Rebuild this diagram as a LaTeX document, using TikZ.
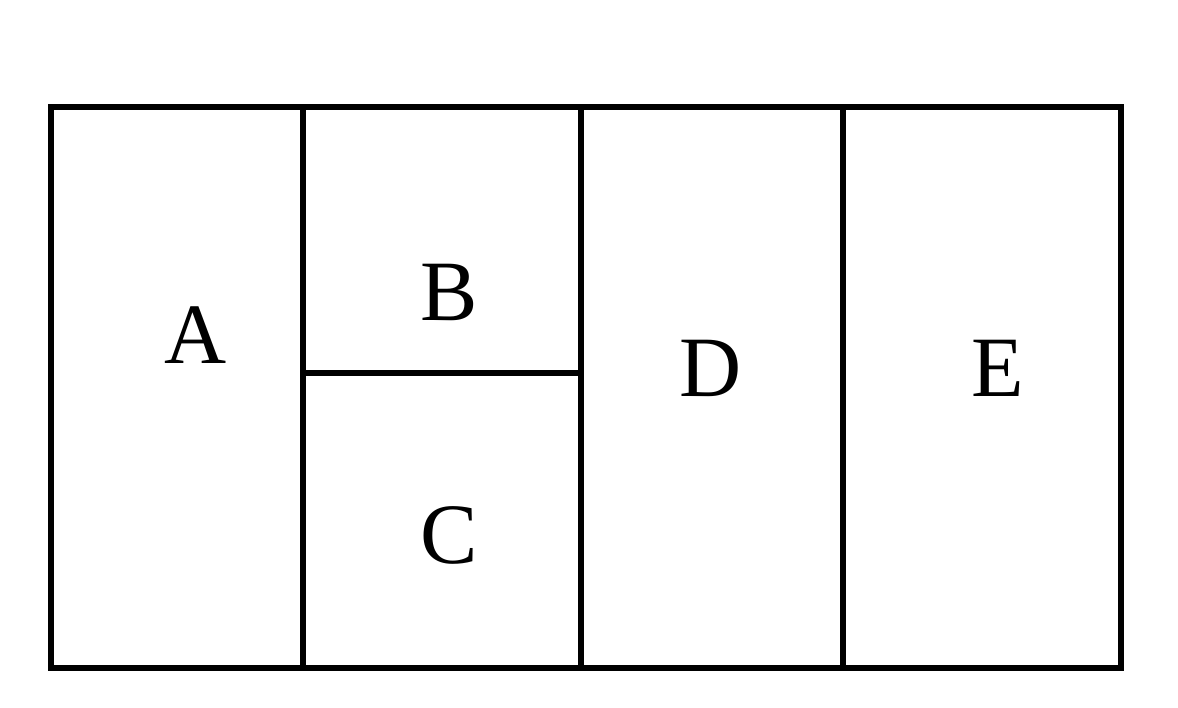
\documentclass[tikz,border=0pt]{standalone}
\usepackage{fontspec}
\setmainfont{Liberation Serif}
\begin{document}
\begin{tikzpicture}[x=1pt,y=-1pt,
  frame/.style={line width=6pt,draw=black},
  lbl/.style={anchor=base,inner sep=0pt,font=\fontsize{86}{86}\selectfont}]
\useasboundingbox (0,0) rectangle (1178,708);
\draw[frame] (51,107) rectangle (1121,668);
\draw[frame] (303,107) -- (303,668);
\draw[frame] (581,107) -- (581,668);
\draw[frame] (843,107) -- (843,668);
\draw[frame] (303,373) -- (581,373);
\node[lbl] (A) at (196,364) {A};
\node[lbl] (B) at (449,321) {B};
\node[lbl] (C) at (449,563) {C};
\node[lbl] (D) at (711,397) {D};
\node[lbl] (E) at (998,397) {E};
\end{tikzpicture}
\end{document}
